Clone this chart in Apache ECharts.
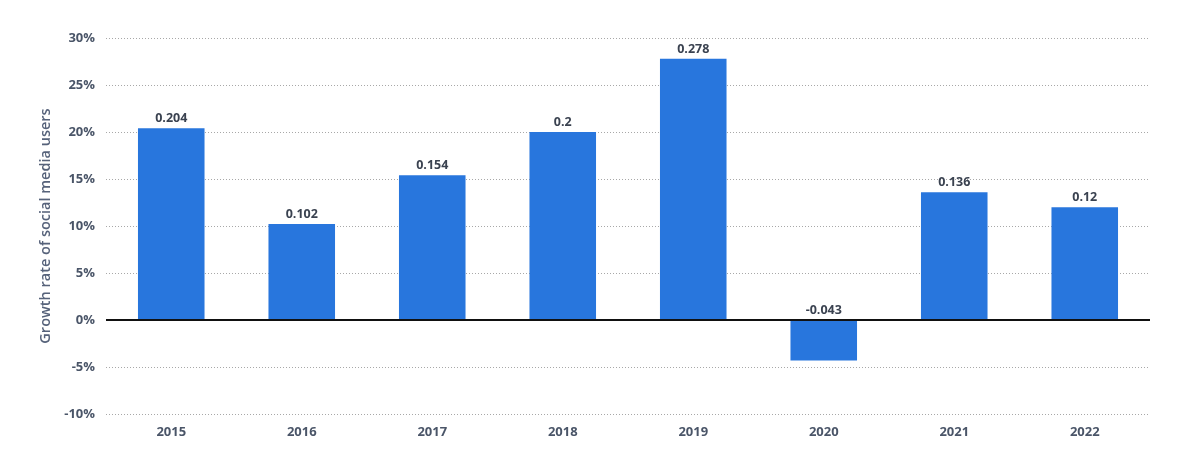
<!DOCTYPE html>
<html>
<head>
<meta charset="utf-8">
<script src="https://cdn.jsdelivr.net/npm/echarts@6/dist/echarts.min.js"></script>
<style>
  html, body { margin: 0; padding: 0; background: #fff; }
  #chart { width: 1200px; height: 466px; }
</style>
</head>
<body>
<div id="chart"></div>
<script>
// years on the x axis
let years = ['2015', '2016', '2017', '2018', '2019', '2020', '2021', '2022'];
// growth rate of social media users (fraction)
let growth = [0.204, 0.102, 0.154, 0.2, 0.278, -0.043, 0.136, 0.12];

let chart = echarts.init(document.getElementById('chart'));
let textFont = '"Open Sans", "Noto Sans", sans-serif';

let option = {
    animation: false,
    grid: {
        left: 106,
        right: 50,
        top: 38,
        bottom: 52
    },
    xAxis: {
        type: 'category',
        data: years,
        axisLine: { show: false, onZero: false },
        axisTick: { show: false },
        axisLabel: {
            color: '#4a5568',
            fontFamily: textFont,
            fontWeight: 'bold',
            fontSize: 13,
            margin: 12
        }
    },
    yAxis: {
        type: 'value',
        min: -0.1,
        max: 0.3,
        interval: 0.05,
        name: 'Growth rate of social media users',
        nameLocation: 'middle',
        nameGap: 45,
        nameTextStyle: {
            color: '#56627a',
            fontFamily: textFont,
            fontWeight: 600,
            fontSize: 14.5
        },
        axisLine: { show: false },
        axisTick: { show: false },
        axisLabel: {
            color: '#4a5568',
            fontFamily: textFont,
            fontWeight: 'bold',
            fontSize: 13,
            margin: 11,
            formatter: function(v) { return Math.round(v * 100) + '%'; }
        },
        splitLine: {
            lineStyle: { color: '#a8a8a8', type: [1, 2], width: 1 }
        }
    },
    series: [{
        type: 'bar',
        data: growth,
        barWidth: '51%',
        itemStyle: { color: '#2876dd' },
        label: {
            show: true,
            position: 'top',
            distance: 3,
            color: '#3a4250',
            fontFamily: textFont,
            fontSize: 12.5,
            fontWeight: 'bold'
        },
        markLine: {
            silent: true,
            symbol: 'none',
            label: { show: false },
            lineStyle: { color: '#111', type: 'solid', width: 2 },
            data: [{ yAxis: 0 }]
        }
    }]
};

chart.setOption(option);
window.onresize = function() {
    chart.resize();
};
</script>
</body>
</html>
